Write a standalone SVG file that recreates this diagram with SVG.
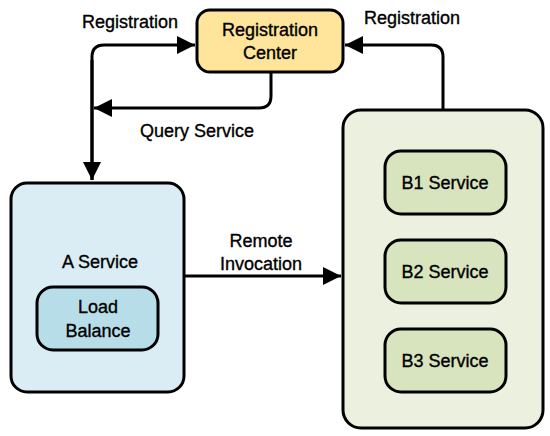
<svg xmlns="http://www.w3.org/2000/svg" width="550" height="436" viewBox="0 0 550 436">
<style>
text{font-family:"Liberation Sans",Arial,sans-serif;font-size:18px;fill:#000;stroke:#000;stroke-width:0.35;text-anchor:middle}
.box{stroke:#000;stroke-width:3}
.edge{fill:none;stroke:#000;stroke-width:3}
</style>
<defs>
<marker id="arr" viewBox="0 0 10 10" refX="10" refY="5" markerWidth="6.5" markerHeight="6" markerUnits="strokeWidth" orient="auto">
<path d="M0,0 L10,5 L0,10 z" fill="#000"/>
</marker>
</defs>
<g id="connectors">
<path class="edge" d="M92,180 L92,57 Q92,45 104,45 L195,45" marker-end="url(#arr)"/>
<path class="edge" d="M92,60 L92,180" marker-end="url(#arr)"/>
<path class="edge" d="M271,72 L271,96 Q271,108 259,108 L94,108" marker-end="url(#arr)"/>
<path class="edge" d="M184,276 L341,276" marker-end="url(#arr)"/>
<path class="edge" d="M443,110 L443,57 Q443,45 431,45 L345,45" marker-end="url(#arr)"/>
<text x="130" y="28">Registration</text>
<text x="412" y="24">Registration</text>
<text x="197" y="137">Query Service</text>
<text x="261" y="247">Remote</text>
<text x="261" y="270">Invocation</text>
</g>
<g id="registration-center">
<rect class="box" x="197" y="10" width="146" height="62" rx="13" fill="#FFE49C"/>
<text x="270" y="36">Registration</text>
<text x="270" y="59">Center</text>
</g>
<g id="a-service">
<rect class="box" x="11" y="183" width="173" height="209" rx="16" fill="#DBEDF4"/>
<text x="100" y="268">A Service</text>
</g>
<g id="load-balance">
<rect class="box" x="37" y="287" width="121" height="63" rx="16" fill="#B7DDE8"/>
<text x="98" y="313">Load</text>
<text x="98" y="337">Balance</text>
</g>
<g id="b-group">
<rect class="box" x="343" y="110" width="200" height="318" rx="18" fill="#EBF1DE"/>
</g>
<g id="b1-service">
<rect class="box" x="385" y="151" width="121" height="63" rx="16" fill="#D7E4BD"/>
<text x="445" y="189">B1 Service</text>
</g>
<g id="b2-service">
<rect class="box" x="385" y="240" width="121" height="63" rx="16" fill="#D7E4BD"/>
<text x="445" y="278">B2 Service</text>
</g>
<g id="b3-service">
<rect class="box" x="385" y="329" width="121" height="63" rx="16" fill="#D7E4BD"/>
<text x="445" y="367">B3 Service</text>
</g>
</svg>
